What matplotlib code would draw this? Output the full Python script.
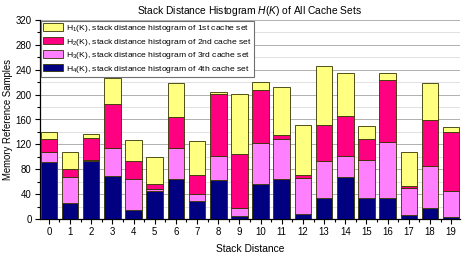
import matplotlib
matplotlib.use('Agg')
import matplotlib.pyplot as plt
import numpy as np
from matplotlib.ticker import MultipleLocator

plt.rcParams['font.family'] = ['Liberation Sans', 'DejaVu Sans']
plt.rcParams['mathtext.fontset'] = 'custom'
plt.rcParams['mathtext.rm'] = 'Liberation Sans'
plt.rcParams['mathtext.it'] = 'Liberation Sans:italic'

# stack distance 0..19
distances = list(range(20))
# cumulative tops (H4, H4+H3, +H2, +H1)
top4 = [92, 25, 94, 69, 15, 45, 65, 29, 63, 5, 57, 64, 8, 34, 68, 34, 34, 7, 18, 3]
top3 = [108, 67, 95, 114, 64, 49, 114, 41, 101, 17, 123, 129, 66, 93, 101, 95, 124, 50, 85, 45]
top2 = [128, 80, 130, 185, 93, 57, 164, 71, 201, 105, 207, 135, 71, 151, 165, 129, 223, 53, 160, 140]
top1 = [140, 108, 137, 227, 127, 99, 218, 126, 204, 201, 221, 213, 151, 246, 234, 150, 235, 107, 219, 148]

h4 = np.array(top4)
h3 = np.array(top3) - np.array(top4)
h2 = np.array(top2) - np.array(top3)
h1 = np.array(top1) - np.array(top2)

labels = [r'H$_1$(K), stack distance histogram of 1st cache set',
          r'H$_2$(K), stack distance histogram of 2nd cache set',
          r'H$_3$(K), stack distance histogram of 3rd cache set',
          r'H$_4$(K), stack distance histogram of 4th cache set']
colors = ['#FFFF80', '#FF0080', '#FF80FF', '#000080']

fig = plt.figure(figsize=(4.74, 2.57), dpi=100, facecolor='white')
ax = fig.add_axes([40 / 474, 38 / 257, 420 / 474, 199 / 257])

x = np.array(distances)
w = 0.78
ec = '#333300'
b4 = ax.bar(x, h4, w, color=colors[3], edgecolor=ec, linewidth=0.6, zorder=3)
b3 = ax.bar(x, h3, w, bottom=h4, color=colors[2], edgecolor=ec, linewidth=0.6, zorder=3)
b2 = ax.bar(x, h2, w, bottom=h4 + h3, color=colors[1], edgecolor=ec, linewidth=0.6, zorder=3)
b1 = ax.bar(x, h1, w, bottom=h4 + h3 + h2, color=colors[0], edgecolor=ec, linewidth=0.6, zorder=3)

ax.set_xlim(-0.42, 19.42)
ax.set_ylim(0, 320)
ax.set_xticks(distances)
ax.xaxis.set_minor_locator(MultipleLocator(0.5))
ax.yaxis.set_major_locator(MultipleLocator(40))
ax.yaxis.set_minor_locator(MultipleLocator(20))
ax.grid(axis='y', which='major', color='#b0b0b0', linewidth=0.7, zorder=0)
ax.grid(axis='y', which='minor', color='#dcdcdc', linewidth=0.6, zorder=0)
ax.tick_params(which='both', direction='out', labelsize=6.9, width=0.8)
ax.tick_params(which='major', length=3.5, pad=2.5)
ax.tick_params(which='minor', length=2)
for s in ['top', 'right']:
    ax.spines[s].set_visible(False)
ax.spines['left'].set_linewidth(0.9)
ax.spines['bottom'].set_linewidth(0.9)

ax.set_xlabel('Stack Distance', fontsize=7.4, labelpad=5)
ax.set_ylabel('Memory Reference Samples', fontsize=6.9, labelpad=2)
ax.set_title(r'Stack Distance Histogram $\mathit{H(K)}$ of All Cache Sets', fontsize=7.4, pad=4)

leg = ax.legend([b1, b2, b3, b4], labels, loc='upper left', fontsize=6.1,
                fancybox=False, framealpha=1, edgecolor='#707070',
                handlelength=2.35, handleheight=1.0, labelspacing=0.3,
                borderpad=0.25, handletextpad=0.4, borderaxespad=0.1)
leg.get_frame().set_linewidth(0.8)

fig.savefig('out.png', dpi=100)
